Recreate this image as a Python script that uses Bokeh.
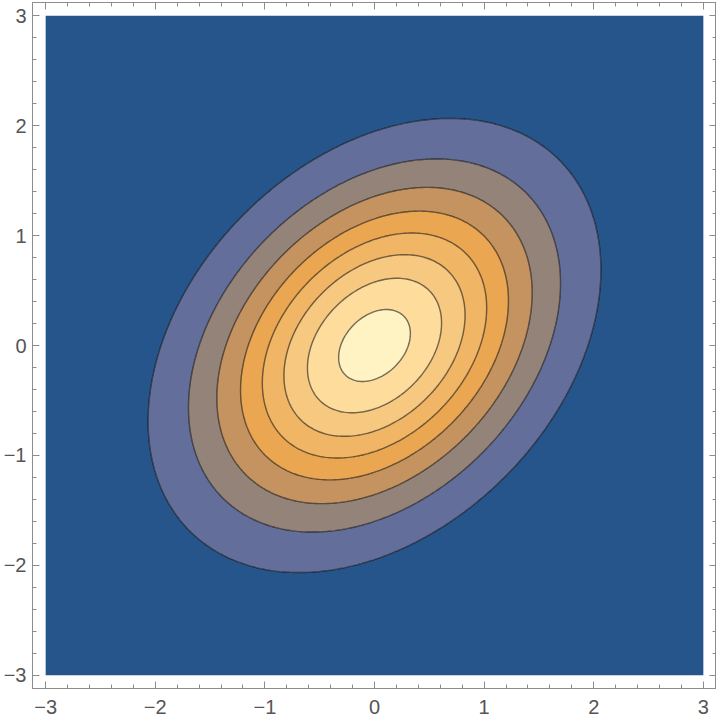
import numpy as np
from bokeh.plotting import figure
from bokeh.models import Range1d, LinearAxis, FixedTicker
from bokeh.embed import file_html
from bokeh.resources import INLINE

# Binormal density (unit variances, correlation rho) over [-3, 3] x [-3, 3]
rho = 1.0 / 3.0
x_min, x_max = -3.0, 3.0
y_min, y_max = -3.0, 3.0
n_grid = 301

# contour levels (band edges) and band colours, low -> high
levels = [0.0, 0.02, 0.04, 0.06, 0.08, 0.10, 0.12, 0.14, 0.16, 0.2]
band_colors = ["#25558A", "#636F9A", "#948379", "#C4935F", "#EAA651",
               "#F0B565", "#F6C880", "#FDDC9C", "#FFF3C3"]

major_ticks = [-3, -2, -1, 0, 1, 2, 3]
minor_ticks = [round(-3.0 + 0.2 * i, 1) for i in range(31)]
tick_labels = {float(t): (("\u2212" + str(-t)) if t < 0 else str(t)) for t in major_ticks}

xs = np.linspace(x_min, x_max, n_grid)
ys = np.linspace(y_min, y_max, n_grid)
X, Y = np.meshgrid(xs, ys)
Z = np.exp(-(X**2 - 2 * rho * X * Y + Y**2) / (2 * (1 - rho**2))) / (2 * np.pi * np.sqrt(1 - rho**2))

pad = 0.02 * (x_max - x_min)
p = figure(frame_width=684, frame_height=686, output_backend="svg", toolbar_location=None,
           x_range=Range1d(x_min - pad, x_max + pad), y_range=Range1d(y_min - pad, y_max + pad),
           min_border_left=0, min_border_right=0, min_border_top=2, min_border_bottom=0,
           x_axis_location=None, y_axis_location=None)
p.grid.visible = False
p.background_fill_color = "white"
p.border_fill_color = "white"
p.outline_line_color = "#8c8c8c"
p.outline_line_width = 1

p.contour(X, Y, Z, levels=levels, fill_color=band_colors,
          line_color="black", line_alpha=0.55, line_width=1.4)

frame_col = "#8c8c8c"
label_col = "#555555"
for loc in ["left", "below", "right", "above"]:
    ax = LinearAxis(ticker=FixedTicker(ticks=major_ticks, minor_ticks=minor_ticks))
    ax.axis_line_color = frame_col
    ax.major_tick_line_color = frame_col
    ax.minor_tick_line_color = frame_col
    ax.major_tick_in = 7
    ax.major_tick_out = 0
    ax.minor_tick_in = 4
    ax.minor_tick_out = 0
    if loc in ("left", "below"):
        ax.major_label_overrides = tick_labels
        ax.major_label_text_font = "Liberation Sans"
        ax.major_label_text_font_size = "20px"
        ax.major_label_text_color = label_col
        ax.major_label_standoff = 6 if loc == "left" else 11
    else:
        ax.major_label_text_color = None
        ax.major_label_text_font_size = "2px"
        ax.major_label_standoff = 0
    p.add_layout(ax, loc)

open("out.html", "w").write(file_html(p, INLINE))
